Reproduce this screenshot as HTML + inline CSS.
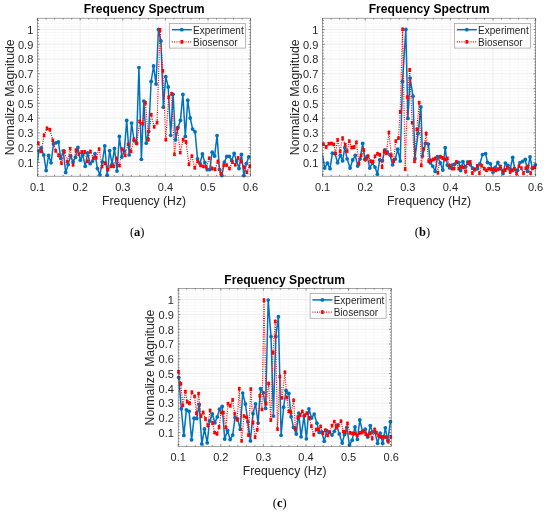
<!DOCTYPE html>
<html><head><meta charset="utf-8"><title>Frequency Spectrum</title>
<style>
html,body{margin:0;padding:0;background:#fff;}
svg{display:block;filter:blur(0.3px);}
text{font-family:"Liberation Sans",Arial,sans-serif;fill:#262626;}
.tk{font-size:11px;}
.lb{font-size:12px;}
.yl{font-size:12.25px;}
.xl{font-size:12.2px;}
.tt{font-size:12.15px;font-weight:bold;fill:#000;}
.lg{font-size:10px;}
.cp{font-family:"Liberation Serif","Times New Roman",serif;font-size:12.5px;fill:#000;}
</style></head>
<body>
<svg width="550" height="512" viewBox="0 0 550 512">
<rect width="550" height="512" fill="#fff"/>
<clipPath id="clipa"><rect x="37.6" y="18.2" width="213" height="158"/></clipPath>
<path d="M46.12 18.2V176.2M54.64 18.2V176.2M63.16 18.2V176.2M71.68 18.2V176.2M88.72 18.2V176.2M97.24 18.2V176.2M105.76 18.2V176.2M114.28 18.2V176.2M131.32 18.2V176.2M139.84 18.2V176.2M148.36 18.2V176.2M156.88 18.2V176.2M173.92 18.2V176.2M182.44 18.2V176.2M190.96 18.2V176.2M199.48 18.2V176.2M216.52 18.2V176.2M225.04 18.2V176.2M233.56 18.2V176.2M242.08 18.2V176.2M37.6 174.25H250.6M37.6 171.29H250.6M37.6 168.34H250.6M37.6 165.38H250.6M37.6 159.48H250.6M37.6 156.52H250.6M37.6 153.57H250.6M37.6 150.61H250.6M37.6 144.71H250.6M37.6 141.75H250.6M37.6 138.8H250.6M37.6 135.84H250.6M37.6 129.94H250.6M37.6 126.98H250.6M37.6 124.03H250.6M37.6 121.07H250.6M37.6 115.17H250.6M37.6 112.21H250.6M37.6 109.26H250.6M37.6 106.3H250.6M37.6 100.4H250.6M37.6 97.44H250.6M37.6 94.49H250.6M37.6 91.53H250.6M37.6 85.63H250.6M37.6 82.67H250.6M37.6 79.72H250.6M37.6 76.76H250.6M37.6 70.86H250.6M37.6 67.9H250.6M37.6 64.95H250.6M37.6 61.99H250.6M37.6 56.09H250.6M37.6 53.13H250.6M37.6 50.18H250.6M37.6 47.22H250.6M37.6 41.32H250.6M37.6 38.36H250.6M37.6 35.41H250.6M37.6 32.45H250.6M37.6 26.55H250.6M37.6 23.59H250.6M37.6 20.64H250.6" stroke="#f6f6f6" stroke-width="0.8" fill="none"/>
<path d="M80.2 18.2V176.2M122.8 18.2V176.2M165.4 18.2V176.2M208 18.2V176.2M250.6 18.2V176.2M37.6 162.43H250.6M37.6 147.66H250.6M37.6 132.89H250.6M37.6 118.12H250.6M37.6 103.35H250.6M37.6 88.58H250.6M37.6 73.81H250.6M37.6 59.04H250.6M37.6 44.27H250.6M37.6 29.5H250.6" stroke="#ebebeb" stroke-width="0.9" fill="none"/>
<polyline clip-path="url(#clipa)" points="36.2,173 38.85,150.8 41.29,147.9 43.73,154.9 46.17,170.5 48.61,155.5 51.05,162.8 53.5,144 55.94,142.8 58.38,142 60.82,158.4 63.26,150.8 65.7,172.5 68.14,164.6 70.58,155.7 73.02,162 75.47,157.3 77.91,147.5 80.35,160.2 82.79,154.9 85.23,166.3 87.67,152.9 90.11,163.7 92.55,161.1 94.99,153.7 97.43,168.6 99.88,174.8 102.32,162 104.76,145.9 107.2,175.2 109.64,150.6 112.08,163.9 114.52,148.5 116.96,171 119.4,136.5 121.84,157 124.28,151 126.73,120.4 129.17,154.9 131.61,123.1 134.05,140.5 136.49,143.5 138.93,67.6 141.37,159.3 143.81,101.1 146.25,143.2 148.69,131.5 151.14,81.5 153.58,66 156.02,84.1 158.46,29.5 160.9,41 163.34,107.2 165.78,76.7 168.22,86.9 170.66,135.3 173.1,94.3 175.55,139.7 177.99,127.4 180.43,120.4 182.87,94.4 185.31,136.5 187.75,100.2 190.19,118 192.63,129.1 195.07,131.8 197.51,158.8 199.96,163.5 202.4,154 204.84,162.4 207.28,169.7 209.72,169.5 212.16,152.2 214.6,156 217.04,135.6 219.48,169.5 221.92,175.6 224.37,162.1 226.81,156.5 229.25,156.3 231.69,160.5 234.13,153.4 236.57,161 239.01,168.5 241.45,154.4 243.89,175.6 246.33,163.6 248.78,157" fill="none" stroke="#0072bd" stroke-width="1.5" stroke-linejoin="round"/>
<g fill="#0072bd"><circle cx="38.85" cy="150.8" r="1.9"/><circle cx="41.29" cy="147.9" r="1.9"/><circle cx="43.73" cy="154.9" r="1.9"/><circle cx="46.17" cy="170.5" r="1.9"/><circle cx="48.61" cy="155.5" r="1.9"/><circle cx="51.05" cy="162.8" r="1.9"/><circle cx="53.5" cy="144" r="1.9"/><circle cx="55.94" cy="142.8" r="1.9"/><circle cx="58.38" cy="142" r="1.9"/><circle cx="60.82" cy="158.4" r="1.9"/><circle cx="63.26" cy="150.8" r="1.9"/><circle cx="65.7" cy="172.5" r="1.9"/><circle cx="68.14" cy="164.6" r="1.9"/><circle cx="70.58" cy="155.7" r="1.9"/><circle cx="73.02" cy="162" r="1.9"/><circle cx="75.47" cy="157.3" r="1.9"/><circle cx="77.91" cy="147.5" r="1.9"/><circle cx="80.35" cy="160.2" r="1.9"/><circle cx="82.79" cy="154.9" r="1.9"/><circle cx="85.23" cy="166.3" r="1.9"/><circle cx="87.67" cy="152.9" r="1.9"/><circle cx="90.11" cy="163.7" r="1.9"/><circle cx="92.55" cy="161.1" r="1.9"/><circle cx="94.99" cy="153.7" r="1.9"/><circle cx="97.43" cy="168.6" r="1.9"/><circle cx="99.88" cy="174.8" r="1.9"/><circle cx="102.32" cy="162" r="1.9"/><circle cx="104.76" cy="145.9" r="1.9"/><circle cx="107.2" cy="175.2" r="1.9"/><circle cx="109.64" cy="150.6" r="1.9"/><circle cx="112.08" cy="163.9" r="1.9"/><circle cx="114.52" cy="148.5" r="1.9"/><circle cx="116.96" cy="171" r="1.9"/><circle cx="119.4" cy="136.5" r="1.9"/><circle cx="121.84" cy="157" r="1.9"/><circle cx="124.28" cy="151" r="1.9"/><circle cx="126.73" cy="120.4" r="1.9"/><circle cx="129.17" cy="154.9" r="1.9"/><circle cx="131.61" cy="123.1" r="1.9"/><circle cx="134.05" cy="140.5" r="1.9"/><circle cx="136.49" cy="143.5" r="1.9"/><circle cx="138.93" cy="67.6" r="1.9"/><circle cx="141.37" cy="159.3" r="1.9"/><circle cx="143.81" cy="101.1" r="1.9"/><circle cx="146.25" cy="143.2" r="1.9"/><circle cx="148.69" cy="131.5" r="1.9"/><circle cx="151.14" cy="81.5" r="1.9"/><circle cx="153.58" cy="66" r="1.9"/><circle cx="156.02" cy="84.1" r="1.9"/><circle cx="158.46" cy="29.5" r="1.9"/><circle cx="160.9" cy="41" r="1.9"/><circle cx="163.34" cy="107.2" r="1.9"/><circle cx="165.78" cy="76.7" r="1.9"/><circle cx="168.22" cy="86.9" r="1.9"/><circle cx="170.66" cy="135.3" r="1.9"/><circle cx="173.1" cy="94.3" r="1.9"/><circle cx="175.55" cy="139.7" r="1.9"/><circle cx="177.99" cy="127.4" r="1.9"/><circle cx="180.43" cy="120.4" r="1.9"/><circle cx="182.87" cy="94.4" r="1.9"/><circle cx="185.31" cy="136.5" r="1.9"/><circle cx="187.75" cy="100.2" r="1.9"/><circle cx="190.19" cy="118" r="1.9"/><circle cx="192.63" cy="129.1" r="1.9"/><circle cx="195.07" cy="131.8" r="1.9"/><circle cx="197.51" cy="158.8" r="1.9"/><circle cx="199.96" cy="163.5" r="1.9"/><circle cx="202.4" cy="154" r="1.9"/><circle cx="204.84" cy="162.4" r="1.9"/><circle cx="207.28" cy="169.7" r="1.9"/><circle cx="209.72" cy="169.5" r="1.9"/><circle cx="212.16" cy="152.2" r="1.9"/><circle cx="214.6" cy="156" r="1.9"/><circle cx="217.04" cy="135.6" r="1.9"/><circle cx="219.48" cy="169.5" r="1.9"/><circle cx="221.92" cy="175.6" r="1.9"/><circle cx="224.37" cy="162.1" r="1.9"/><circle cx="226.81" cy="156.5" r="1.9"/><circle cx="229.25" cy="156.3" r="1.9"/><circle cx="231.69" cy="160.5" r="1.9"/><circle cx="234.13" cy="153.4" r="1.9"/><circle cx="236.57" cy="161" r="1.9"/><circle cx="239.01" cy="168.5" r="1.9"/><circle cx="241.45" cy="154.4" r="1.9"/><circle cx="243.89" cy="175.6" r="1.9"/><circle cx="246.33" cy="163.6" r="1.9"/><circle cx="248.78" cy="157" r="1.9"/></g>
<polyline clip-path="url(#clipa)" points="38.3,143.2 41.2,151.4 44.09,135.3 46.99,128.3 49.89,129.7 52.78,140.3 55.68,150.8 58.58,155.3 61.48,163.1 64.37,151.4 67.27,161.6 70.17,148.7 73.06,164.9 75.96,150.2 78.86,154.3 81.75,152 84.65,152 87.55,161.4 90.45,151.4 93.34,158.4 96.24,157.8 99.14,149.1 102.03,166.6 104.93,163.1 107.83,169.6 110.72,166.3 113.62,166.3 116.52,158.4 119.42,165.5 122.31,149.2 125.21,155.3 128.11,144.4 131,151.4 133.9,139.1 136.8,143.2 139.69,121.5 142.59,123.9 145.49,102.8 148.39,139.7 151.28,114.6 154.18,126.8 157.08,122.5 159.97,30 162.87,70.8 165.77,139.7 168.66,97.3 171.56,93.8 174.46,154.3 177.36,128.3 180.25,152.6 183.15,139.7 186.05,142 188.94,164.3 191.84,156.1 194.74,167.8 197.63,161.4 200.53,165.4 203.43,166.4 206.33,167.1 209.22,158.3 212.12,168.5 215.02,169.2 217.91,161.5 220.81,173.7 223.71,165.1 226.6,165.1 229.5,168.5 232.4,162.1 235.3,164.8 238.19,158 241.09,161.5 243.99,167.1 246.88,172.2 249.78,166.1" fill="none" stroke="#ff0000" stroke-width="1.2" stroke-dasharray="1 1.3"/>
<path d="M37.05 141.65L39.55 144.75M37.05 144.75L39.55 141.65M37.05 143.2H39.55M38.3 141.25V145.15M39.95 149.85L42.45 152.95M39.95 152.95L42.45 149.85M39.95 151.4H42.45M41.2 149.45V153.35M42.84 133.75L45.34 136.85M42.84 136.85L45.34 133.75M42.84 135.3H45.34M44.09 133.35V137.25M45.74 126.75L48.24 129.85M45.74 129.85L48.24 126.75M45.74 128.3H48.24M46.99 126.35V130.25M48.64 128.15L51.14 131.25M48.64 131.25L51.14 128.15M48.64 129.7H51.14M49.89 127.75V131.65M51.53 138.75L54.03 141.85M51.53 141.85L54.03 138.75M51.53 140.3H54.03M52.78 138.35V142.25M54.43 149.25L56.93 152.35M54.43 152.35L56.93 149.25M54.43 150.8H56.93M55.68 148.85V152.75M57.33 153.75L59.83 156.85M57.33 156.85L59.83 153.75M57.33 155.3H59.83M58.58 153.35V157.25M60.23 161.55L62.73 164.65M60.23 164.65L62.73 161.55M60.23 163.1H62.73M61.48 161.15V165.05M63.12 149.85L65.62 152.95M63.12 152.95L65.62 149.85M63.12 151.4H65.62M64.37 149.45V153.35M66.02 160.05L68.52 163.15M66.02 163.15L68.52 160.05M66.02 161.6H68.52M67.27 159.65V163.55M68.92 147.15L71.42 150.25M68.92 150.25L71.42 147.15M68.92 148.7H71.42M70.17 146.75V150.65M71.81 163.35L74.31 166.45M71.81 166.45L74.31 163.35M71.81 164.9H74.31M73.06 162.95V166.85M74.71 148.65L77.21 151.75M74.71 151.75L77.21 148.65M74.71 150.2H77.21M75.96 148.25V152.15M77.61 152.75L80.11 155.85M77.61 155.85L80.11 152.75M77.61 154.3H80.11M78.86 152.35V156.25M80.5 150.45L83 153.55M80.5 153.55L83 150.45M80.5 152H83M81.75 150.05V153.95M83.4 150.45L85.9 153.55M83.4 153.55L85.9 150.45M83.4 152H85.9M84.65 150.05V153.95M86.3 159.85L88.8 162.95M86.3 162.95L88.8 159.85M86.3 161.4H88.8M87.55 159.45V163.35M89.2 149.85L91.7 152.95M89.2 152.95L91.7 149.85M89.2 151.4H91.7M90.45 149.45V153.35M92.09 156.85L94.59 159.95M92.09 159.95L94.59 156.85M92.09 158.4H94.59M93.34 156.45V160.35M94.99 156.25L97.49 159.35M94.99 159.35L97.49 156.25M94.99 157.8H97.49M96.24 155.85V159.75M97.89 147.55L100.39 150.65M97.89 150.65L100.39 147.55M97.89 149.1H100.39M99.14 147.15V151.05M100.78 165.05L103.28 168.15M100.78 168.15L103.28 165.05M100.78 166.6H103.28M102.03 164.65V168.55M103.68 161.55L106.18 164.65M103.68 164.65L106.18 161.55M103.68 163.1H106.18M104.93 161.15V165.05M106.58 168.05L109.08 171.15M106.58 171.15L109.08 168.05M106.58 169.6H109.08M107.83 167.65V171.55M109.47 164.75L111.97 167.85M109.47 167.85L111.97 164.75M109.47 166.3H111.97M110.72 164.35V168.25M112.37 164.75L114.87 167.85M112.37 167.85L114.87 164.75M112.37 166.3H114.87M113.62 164.35V168.25M115.27 156.85L117.77 159.95M115.27 159.95L117.77 156.85M115.27 158.4H117.77M116.52 156.45V160.35M118.17 163.95L120.67 167.05M118.17 167.05L120.67 163.95M118.17 165.5H120.67M119.42 163.55V167.45M121.06 147.65L123.56 150.75M121.06 150.75L123.56 147.65M121.06 149.2H123.56M122.31 147.25V151.15M123.96 153.75L126.46 156.85M123.96 156.85L126.46 153.75M123.96 155.3H126.46M125.21 153.35V157.25M126.86 142.85L129.36 145.95M126.86 145.95L129.36 142.85M126.86 144.4H129.36M128.11 142.45V146.35M129.75 149.85L132.25 152.95M129.75 152.95L132.25 149.85M129.75 151.4H132.25M131 149.45V153.35M132.65 137.55L135.15 140.65M132.65 140.65L135.15 137.55M132.65 139.1H135.15M133.9 137.15V141.05M135.55 141.65L138.05 144.75M135.55 144.75L138.05 141.65M135.55 143.2H138.05M136.8 141.25V145.15M138.44 119.95L140.94 123.05M138.44 123.05L140.94 119.95M138.44 121.5H140.94M139.69 119.55V123.45M141.34 122.35L143.84 125.45M141.34 125.45L143.84 122.35M141.34 123.9H143.84M142.59 121.95V125.85M144.24 101.25L146.74 104.35M144.24 104.35L146.74 101.25M144.24 102.8H146.74M145.49 100.85V104.75M147.14 138.15L149.64 141.25M147.14 141.25L149.64 138.15M147.14 139.7H149.64M148.39 137.75V141.65M150.03 113.05L152.53 116.15M150.03 116.15L152.53 113.05M150.03 114.6H152.53M151.28 112.65V116.55M152.93 125.25L155.43 128.35M152.93 128.35L155.43 125.25M152.93 126.8H155.43M154.18 124.85V128.75M155.83 120.95L158.33 124.05M155.83 124.05L158.33 120.95M155.83 122.5H158.33M157.08 120.55V124.45M158.72 28.45L161.22 31.55M158.72 31.55L161.22 28.45M158.72 30H161.22M159.97 28.05V31.95M161.62 69.25L164.12 72.35M161.62 72.35L164.12 69.25M161.62 70.8H164.12M162.87 68.85V72.75M164.52 138.15L167.02 141.25M164.52 141.25L167.02 138.15M164.52 139.7H167.02M165.77 137.75V141.65M167.41 95.75L169.91 98.85M167.41 98.85L169.91 95.75M167.41 97.3H169.91M168.66 95.35V99.25M170.31 92.25L172.81 95.35M170.31 95.35L172.81 92.25M170.31 93.8H172.81M171.56 91.85V95.75M173.21 152.75L175.71 155.85M173.21 155.85L175.71 152.75M173.21 154.3H175.71M174.46 152.35V156.25M176.11 126.75L178.61 129.85M176.11 129.85L178.61 126.75M176.11 128.3H178.61M177.36 126.35V130.25M179 151.05L181.5 154.15M179 154.15L181.5 151.05M179 152.6H181.5M180.25 150.65V154.55M181.9 138.15L184.4 141.25M181.9 141.25L184.4 138.15M181.9 139.7H184.4M183.15 137.75V141.65M184.8 140.45L187.3 143.55M184.8 143.55L187.3 140.45M184.8 142H187.3M186.05 140.05V143.95M187.69 162.75L190.19 165.85M187.69 165.85L190.19 162.75M187.69 164.3H190.19M188.94 162.35V166.25M190.59 154.55L193.09 157.65M190.59 157.65L193.09 154.55M190.59 156.1H193.09M191.84 154.15V158.05M193.49 166.25L195.99 169.35M193.49 169.35L195.99 166.25M193.49 167.8H195.99M194.74 165.85V169.75M196.38 159.85L198.88 162.95M196.38 162.95L198.88 159.85M196.38 161.4H198.88M197.63 159.45V163.35M199.28 163.85L201.78 166.95M199.28 166.95L201.78 163.85M199.28 165.4H201.78M200.53 163.45V167.35M202.18 164.85L204.68 167.95M202.18 167.95L204.68 164.85M202.18 166.4H204.68M203.43 164.45V168.35M205.08 165.55L207.58 168.65M205.08 168.65L207.58 165.55M205.08 167.1H207.58M206.33 165.15V169.05M207.97 156.75L210.47 159.85M207.97 159.85L210.47 156.75M207.97 158.3H210.47M209.22 156.35V160.25M210.87 166.95L213.37 170.05M210.87 170.05L213.37 166.95M210.87 168.5H213.37M212.12 166.55V170.45M213.77 167.65L216.27 170.75M213.77 170.75L216.27 167.65M213.77 169.2H216.27M215.02 167.25V171.15M216.66 159.95L219.16 163.05M216.66 163.05L219.16 159.95M216.66 161.5H219.16M217.91 159.55V163.45M219.56 172.15L222.06 175.25M219.56 175.25L222.06 172.15M219.56 173.7H222.06M220.81 171.75V175.65M222.46 163.55L224.96 166.65M222.46 166.65L224.96 163.55M222.46 165.1H224.96M223.71 163.15V167.05M225.35 163.55L227.85 166.65M225.35 166.65L227.85 163.55M225.35 165.1H227.85M226.6 163.15V167.05M228.25 166.95L230.75 170.05M228.25 170.05L230.75 166.95M228.25 168.5H230.75M229.5 166.55V170.45M231.15 160.55L233.65 163.65M231.15 163.65L233.65 160.55M231.15 162.1H233.65M232.4 160.15V164.05M234.05 163.25L236.55 166.35M234.05 166.35L236.55 163.25M234.05 164.8H236.55M235.3 162.85V166.75M236.94 156.45L239.44 159.55M236.94 159.55L239.44 156.45M236.94 158H239.44M238.19 156.05V159.95M239.84 159.95L242.34 163.05M239.84 163.05L242.34 159.95M239.84 161.5H242.34M241.09 159.55V163.45M242.74 165.55L245.24 168.65M242.74 168.65L245.24 165.55M242.74 167.1H245.24M243.99 165.15V169.05M245.63 170.65L248.13 173.75M245.63 173.75L248.13 170.65M245.63 172.2H248.13M246.88 170.25V174.15M248.53 164.55L251.03 167.65M248.53 167.65L251.03 164.55M248.53 166.1H251.03M249.78 164.15V168.05" stroke="#ff0000" stroke-width="1.15" fill="none"/>
<path d="M37.6 176.2v-2.2M37.6 18.2v2.2M46.12 176.2v-1.3M46.12 18.2v1.3M54.64 176.2v-1.3M54.64 18.2v1.3M63.16 176.2v-1.3M63.16 18.2v1.3M71.68 176.2v-1.3M71.68 18.2v1.3M80.2 176.2v-2.2M80.2 18.2v2.2M88.72 176.2v-1.3M88.72 18.2v1.3M97.24 176.2v-1.3M97.24 18.2v1.3M105.76 176.2v-1.3M105.76 18.2v1.3M114.28 176.2v-1.3M114.28 18.2v1.3M122.8 176.2v-2.2M122.8 18.2v2.2M131.32 176.2v-1.3M131.32 18.2v1.3M139.84 176.2v-1.3M139.84 18.2v1.3M148.36 176.2v-1.3M148.36 18.2v1.3M156.88 176.2v-1.3M156.88 18.2v1.3M165.4 176.2v-2.2M165.4 18.2v2.2M173.92 176.2v-1.3M173.92 18.2v1.3M182.44 176.2v-1.3M182.44 18.2v1.3M190.96 176.2v-1.3M190.96 18.2v1.3M199.48 176.2v-1.3M199.48 18.2v1.3M208 176.2v-2.2M208 18.2v2.2M216.52 176.2v-1.3M216.52 18.2v1.3M225.04 176.2v-1.3M225.04 18.2v1.3M233.56 176.2v-1.3M233.56 18.2v1.3M242.08 176.2v-1.3M242.08 18.2v1.3M250.6 176.2v-2.2M250.6 18.2v2.2M37.6 174.25h1.3M250.6 174.25h-1.3M37.6 171.29h1.3M250.6 171.29h-1.3M37.6 168.34h1.3M250.6 168.34h-1.3M37.6 165.38h1.3M250.6 165.38h-1.3M37.6 162.43h2.2M250.6 162.43h-2.2M37.6 159.48h1.3M250.6 159.48h-1.3M37.6 156.52h1.3M250.6 156.52h-1.3M37.6 153.57h1.3M250.6 153.57h-1.3M37.6 150.61h1.3M250.6 150.61h-1.3M37.6 147.66h2.2M250.6 147.66h-2.2M37.6 144.71h1.3M250.6 144.71h-1.3M37.6 141.75h1.3M250.6 141.75h-1.3M37.6 138.8h1.3M250.6 138.8h-1.3M37.6 135.84h1.3M250.6 135.84h-1.3M37.6 132.89h2.2M250.6 132.89h-2.2M37.6 129.94h1.3M250.6 129.94h-1.3M37.6 126.98h1.3M250.6 126.98h-1.3M37.6 124.03h1.3M250.6 124.03h-1.3M37.6 121.07h1.3M250.6 121.07h-1.3M37.6 118.12h2.2M250.6 118.12h-2.2M37.6 115.17h1.3M250.6 115.17h-1.3M37.6 112.21h1.3M250.6 112.21h-1.3M37.6 109.26h1.3M250.6 109.26h-1.3M37.6 106.3h1.3M250.6 106.3h-1.3M37.6 103.35h2.2M250.6 103.35h-2.2M37.6 100.4h1.3M250.6 100.4h-1.3M37.6 97.44h1.3M250.6 97.44h-1.3M37.6 94.49h1.3M250.6 94.49h-1.3M37.6 91.53h1.3M250.6 91.53h-1.3M37.6 88.58h2.2M250.6 88.58h-2.2M37.6 85.63h1.3M250.6 85.63h-1.3M37.6 82.67h1.3M250.6 82.67h-1.3M37.6 79.72h1.3M250.6 79.72h-1.3M37.6 76.76h1.3M250.6 76.76h-1.3M37.6 73.81h2.2M250.6 73.81h-2.2M37.6 70.86h1.3M250.6 70.86h-1.3M37.6 67.9h1.3M250.6 67.9h-1.3M37.6 64.95h1.3M250.6 64.95h-1.3M37.6 61.99h1.3M250.6 61.99h-1.3M37.6 59.04h2.2M250.6 59.04h-2.2M37.6 56.09h1.3M250.6 56.09h-1.3M37.6 53.13h1.3M250.6 53.13h-1.3M37.6 50.18h1.3M250.6 50.18h-1.3M37.6 47.22h1.3M250.6 47.22h-1.3M37.6 44.27h2.2M250.6 44.27h-2.2M37.6 41.32h1.3M250.6 41.32h-1.3M37.6 38.36h1.3M250.6 38.36h-1.3M37.6 35.41h1.3M250.6 35.41h-1.3M37.6 32.45h1.3M250.6 32.45h-1.3M37.6 29.5h2.2M250.6 29.5h-2.2M37.6 26.55h1.3M250.6 26.55h-1.3M37.6 23.59h1.3M250.6 23.59h-1.3M37.6 20.64h1.3M250.6 20.64h-1.3" stroke="#262626" stroke-width="0.5" fill="none"/>
<rect x="37.6" y="18.2" width="213" height="158" fill="none" stroke="#404040" stroke-width="0.6" opacity="0.8"/>
<text x="37.6" y="190.5" class="tk" text-anchor="middle">0.1</text>
<text x="80.2" y="190.5" class="tk" text-anchor="middle">0.2</text>
<text x="122.8" y="190.5" class="tk" text-anchor="middle">0.3</text>
<text x="165.4" y="190.5" class="tk" text-anchor="middle">0.4</text>
<text x="208" y="190.5" class="tk" text-anchor="middle">0.5</text>
<text x="250.6" y="190.5" class="tk" text-anchor="middle">0.6</text>
<text x="33.3" y="166.73" class="tk" text-anchor="end">0.1</text>
<text x="33.3" y="151.96" class="tk" text-anchor="end">0.2</text>
<text x="33.3" y="137.19" class="tk" text-anchor="end">0.3</text>
<text x="33.3" y="122.42" class="tk" text-anchor="end">0.4</text>
<text x="33.3" y="107.65" class="tk" text-anchor="end">0.5</text>
<text x="33.3" y="92.88" class="tk" text-anchor="end">0.6</text>
<text x="33.3" y="78.11" class="tk" text-anchor="end">0.7</text>
<text x="33.3" y="63.34" class="tk" text-anchor="end">0.8</text>
<text x="33.3" y="48.57" class="tk" text-anchor="end">0.9</text>
<text x="33.3" y="33.8" class="tk" text-anchor="end">1</text>
<text x="144.1" y="204.9" class="lb xl" text-anchor="middle">Frequency (Hz)</text>
<text transform="translate(13.5 97.3) rotate(-90)" class="lb yl" text-anchor="middle">Normalize Magnitude</text>
<text x="144.1" y="13.3" class="tt" text-anchor="middle">Frequency Spectrum</text>
<rect x="169.5" y="23.4" width="76" height="24.7" fill="#fff" stroke="#a8a8a8" stroke-width="0.8"/>
<path d="M171.8 29.7h20" stroke="#0072bd" stroke-width="1.5"/>
<circle cx="181.8" cy="29.7" r="1.9" fill="#0072bd"/>
<path d="M171.8 41.9h20" stroke="#ff0000" stroke-width="1.2" stroke-dasharray="1 1.3"/>
<path d="M180.55 40.35L183.05 43.45M180.55 43.45L183.05 40.35M180.55 41.9H183.05M181.8 39.95V43.85" stroke="#ff0000" stroke-width="1.15"/>
<text x="193.1" y="33.5" class="lg">Experiment</text>
<text x="193.1" y="45.5" class="lg">Biosensor</text>
<text x="137.2" y="236.2" class="cp" text-anchor="middle">(<tspan font-weight="bold">a</tspan>)</text>
<clipPath id="clipb"><rect x="322.6" y="18.2" width="213" height="158"/></clipPath>
<path d="M331.12 18.2V176.2M339.64 18.2V176.2M348.16 18.2V176.2M356.68 18.2V176.2M373.72 18.2V176.2M382.24 18.2V176.2M390.76 18.2V176.2M399.28 18.2V176.2M416.32 18.2V176.2M424.84 18.2V176.2M433.36 18.2V176.2M441.88 18.2V176.2M458.92 18.2V176.2M467.44 18.2V176.2M475.96 18.2V176.2M484.48 18.2V176.2M501.52 18.2V176.2M510.04 18.2V176.2M518.56 18.2V176.2M527.08 18.2V176.2M322.6 174.25H535.6M322.6 171.29H535.6M322.6 168.34H535.6M322.6 165.38H535.6M322.6 159.48H535.6M322.6 156.52H535.6M322.6 153.57H535.6M322.6 150.61H535.6M322.6 144.71H535.6M322.6 141.75H535.6M322.6 138.8H535.6M322.6 135.84H535.6M322.6 129.94H535.6M322.6 126.98H535.6M322.6 124.03H535.6M322.6 121.07H535.6M322.6 115.17H535.6M322.6 112.21H535.6M322.6 109.26H535.6M322.6 106.3H535.6M322.6 100.4H535.6M322.6 97.44H535.6M322.6 94.49H535.6M322.6 91.53H535.6M322.6 85.63H535.6M322.6 82.67H535.6M322.6 79.72H535.6M322.6 76.76H535.6M322.6 70.86H535.6M322.6 67.9H535.6M322.6 64.95H535.6M322.6 61.99H535.6M322.6 56.09H535.6M322.6 53.13H535.6M322.6 50.18H535.6M322.6 47.22H535.6M322.6 41.32H535.6M322.6 38.36H535.6M322.6 35.41H535.6M322.6 32.45H535.6M322.6 26.55H535.6M322.6 23.59H535.6M322.6 20.64H535.6" stroke="#f6f6f6" stroke-width="0.8" fill="none"/>
<path d="M365.2 18.2V176.2M407.8 18.2V176.2M450.4 18.2V176.2M493 18.2V176.2M535.6 18.2V176.2M322.6 162.43H535.6M322.6 147.66H535.6M322.6 132.89H535.6M322.6 118.12H535.6M322.6 103.35H535.6M322.6 88.58H535.6M322.6 73.81H535.6M322.6 59.04H535.6M322.6 44.27H535.6M322.6 29.5H535.6" stroke="#ebebeb" stroke-width="0.9" fill="none"/>
<polyline clip-path="url(#clipb)" points="322.2,153.5 324.7,168.1 327.4,163.2 330,168.7 332.4,153.2 335,153.5 337.6,162.8 340.3,155.2 342.6,160.8 344.8,147.6 347.1,158.8 350.1,168 352.7,160 355.3,155.3 357.7,166 360.1,158.9 362.7,143.4 364.8,159.3 367.2,156.3 369.8,168.1 372.3,162.8 375,167.1 377.4,174.2 379.7,160 382.4,160.7 384.8,149.8 387.2,152 390,155 392.6,164.8 395.3,159.1 397.7,149.2 400.2,161 402.5,81.4 405.8,29.5 407.9,118.4 410.2,78.1 413,96.2 414.9,158.7 418.1,133.3 420.9,106.9 422.5,156.1 425.6,143.2 428.4,144.1 430.4,162.9 432.7,166.1 435.2,171.4 437.6,156.7 440.3,163 442.8,170 445.2,147.7 447.3,165.1 449.5,167.8 452.1,165.1 454.2,164.3 456.5,162.7 458.8,162.3 460.6,170.5 462.9,161.6 465.4,167 467.8,162 470.4,164.8 472.8,168.2 475,169.7 477.5,168.7 479.9,163.8 482.5,154.6 485.6,153.7 487.5,162.5 490.4,163.8 493,172.2 495.2,167.3 497.9,162.5 500.5,168.7 503,173.5 505.4,163.1 507.8,165.3 510.2,169 512.7,157.5 514.9,169.5 517.6,170.3 520,162.7 522.6,161.5 525.3,159.5 527.5,171.3 530,157 532.3,168.2 535.4,164.8" fill="none" stroke="#0072bd" stroke-width="1.5" stroke-linejoin="round"/>
<g fill="#0072bd"><circle cx="324.7" cy="168.1" r="1.9"/><circle cx="327.4" cy="163.2" r="1.9"/><circle cx="330" cy="168.7" r="1.9"/><circle cx="332.4" cy="153.2" r="1.9"/><circle cx="335" cy="153.5" r="1.9"/><circle cx="337.6" cy="162.8" r="1.9"/><circle cx="340.3" cy="155.2" r="1.9"/><circle cx="342.6" cy="160.8" r="1.9"/><circle cx="344.8" cy="147.6" r="1.9"/><circle cx="347.1" cy="158.8" r="1.9"/><circle cx="350.1" cy="168" r="1.9"/><circle cx="352.7" cy="160" r="1.9"/><circle cx="355.3" cy="155.3" r="1.9"/><circle cx="357.7" cy="166" r="1.9"/><circle cx="360.1" cy="158.9" r="1.9"/><circle cx="362.7" cy="143.4" r="1.9"/><circle cx="364.8" cy="159.3" r="1.9"/><circle cx="367.2" cy="156.3" r="1.9"/><circle cx="369.8" cy="168.1" r="1.9"/><circle cx="372.3" cy="162.8" r="1.9"/><circle cx="375" cy="167.1" r="1.9"/><circle cx="377.4" cy="174.2" r="1.9"/><circle cx="379.7" cy="160" r="1.9"/><circle cx="382.4" cy="160.7" r="1.9"/><circle cx="384.8" cy="149.8" r="1.9"/><circle cx="387.2" cy="152" r="1.9"/><circle cx="390" cy="155" r="1.9"/><circle cx="392.6" cy="164.8" r="1.9"/><circle cx="395.3" cy="159.1" r="1.9"/><circle cx="397.7" cy="149.2" r="1.9"/><circle cx="400.2" cy="161" r="1.9"/><circle cx="402.5" cy="81.4" r="1.9"/><circle cx="405.8" cy="29.5" r="1.9"/><circle cx="407.9" cy="118.4" r="1.9"/><circle cx="410.2" cy="78.1" r="1.9"/><circle cx="413" cy="96.2" r="1.9"/><circle cx="414.9" cy="158.7" r="1.9"/><circle cx="418.1" cy="133.3" r="1.9"/><circle cx="420.9" cy="106.9" r="1.9"/><circle cx="422.5" cy="156.1" r="1.9"/><circle cx="425.6" cy="143.2" r="1.9"/><circle cx="428.4" cy="144.1" r="1.9"/><circle cx="430.4" cy="162.9" r="1.9"/><circle cx="432.7" cy="166.1" r="1.9"/><circle cx="435.2" cy="171.4" r="1.9"/><circle cx="437.6" cy="156.7" r="1.9"/><circle cx="440.3" cy="163" r="1.9"/><circle cx="442.8" cy="170" r="1.9"/><circle cx="445.2" cy="147.7" r="1.9"/><circle cx="447.3" cy="165.1" r="1.9"/><circle cx="449.5" cy="167.8" r="1.9"/><circle cx="452.1" cy="165.1" r="1.9"/><circle cx="454.2" cy="164.3" r="1.9"/><circle cx="456.5" cy="162.7" r="1.9"/><circle cx="458.8" cy="162.3" r="1.9"/><circle cx="460.6" cy="170.5" r="1.9"/><circle cx="462.9" cy="161.6" r="1.9"/><circle cx="465.4" cy="167" r="1.9"/><circle cx="467.8" cy="162" r="1.9"/><circle cx="470.4" cy="164.8" r="1.9"/><circle cx="472.8" cy="168.2" r="1.9"/><circle cx="475" cy="169.7" r="1.9"/><circle cx="477.5" cy="168.7" r="1.9"/><circle cx="479.9" cy="163.8" r="1.9"/><circle cx="482.5" cy="154.6" r="1.9"/><circle cx="485.6" cy="153.7" r="1.9"/><circle cx="487.5" cy="162.5" r="1.9"/><circle cx="490.4" cy="163.8" r="1.9"/><circle cx="493" cy="172.2" r="1.9"/><circle cx="495.2" cy="167.3" r="1.9"/><circle cx="497.9" cy="162.5" r="1.9"/><circle cx="500.5" cy="168.7" r="1.9"/><circle cx="503" cy="173.5" r="1.9"/><circle cx="505.4" cy="163.1" r="1.9"/><circle cx="507.8" cy="165.3" r="1.9"/><circle cx="510.2" cy="169" r="1.9"/><circle cx="512.7" cy="157.5" r="1.9"/><circle cx="514.9" cy="169.5" r="1.9"/><circle cx="517.6" cy="170.3" r="1.9"/><circle cx="520" cy="162.7" r="1.9"/><circle cx="522.6" cy="161.5" r="1.9"/><circle cx="525.3" cy="159.5" r="1.9"/><circle cx="527.5" cy="171.3" r="1.9"/><circle cx="530" cy="157" r="1.9"/><circle cx="532.3" cy="168.2" r="1.9"/><circle cx="535.4" cy="164.8" r="1.9"/></g>
<polyline clip-path="url(#clipb)" points="323.5,144.1 326.2,147 328.8,143.8 331.4,143.5 333.8,144.4 335.5,153.4 337.6,140 340.2,151.1 342.6,138.2 345.2,144.6 347.2,151.1 349.3,141.1 351.7,147.5 354.2,147 356.4,142.3 358.9,163.8 361.1,155.5 363.7,150 365.5,159.7 368.2,156.1 370.6,161.1 373.1,161.6 375,156.3 377.5,153.8 379.9,154.8 382.1,167 384.1,151.4 386.4,153.3 388.9,132.4 391.3,155.2 393.5,161 395.8,141.1 398.5,138.1 400.2,112 402.6,29.3 405.2,169 407.4,97.2 409.7,70 412.2,122.7 414.5,161.3 416.8,129.4 419.2,102.6 421.3,165.3 423.7,148.9 426.2,133.5 428.6,161.1 431,160.6 433.2,159.5 435.4,158.5 437.9,172.9 440.3,156.7 442.6,158 445.2,159.5 447.4,158.4 449.4,165.5 452.1,168.6 454.1,168.6 456.4,162 458.75,168.6 461.1,166.6 463.4,167.4 465.6,171.7 468.1,163.1 470.3,162 472.4,173.1 474.6,169.5 477.2,166 479.4,173.2 481.6,165.6 484.3,168.7 486.5,170.4 488.7,168.7 491,169.1 493.5,169.1 495.9,170.4 498.3,169.1 500.5,166.5 503,171.1 505.3,170 507.3,167.8 510.2,172 512.4,170.3 514.4,168.6 516.6,173.7 518.9,166.1 521.4,168.2 523.5,173.2 525.8,168.2 528.1,166.5 530.6,173.2 532.7,168.2 534.8,167.4" fill="none" stroke="#ff0000" stroke-width="1.2" stroke-dasharray="1 1.3"/>
<path d="M322.25 142.55L324.75 145.65M322.25 145.65L324.75 142.55M322.25 144.1H324.75M323.5 142.15V146.05M324.95 145.45L327.45 148.55M324.95 148.55L327.45 145.45M324.95 147H327.45M326.2 145.05V148.95M327.55 142.25L330.05 145.35M327.55 145.35L330.05 142.25M327.55 143.8H330.05M328.8 141.85V145.75M330.15 141.95L332.65 145.05M330.15 145.05L332.65 141.95M330.15 143.5H332.65M331.4 141.55V145.45M332.55 142.85L335.05 145.95M332.55 145.95L335.05 142.85M332.55 144.4H335.05M333.8 142.45V146.35M334.25 151.85L336.75 154.95M334.25 154.95L336.75 151.85M334.25 153.4H336.75M335.5 151.45V155.35M336.35 138.45L338.85 141.55M336.35 141.55L338.85 138.45M336.35 140H338.85M337.6 138.05V141.95M338.95 149.55L341.45 152.65M338.95 152.65L341.45 149.55M338.95 151.1H341.45M340.2 149.15V153.05M341.35 136.65L343.85 139.75M341.35 139.75L343.85 136.65M341.35 138.2H343.85M342.6 136.25V140.15M343.95 143.05L346.45 146.15M343.95 146.15L346.45 143.05M343.95 144.6H346.45M345.2 142.65V146.55M345.95 149.55L348.45 152.65M345.95 152.65L348.45 149.55M345.95 151.1H348.45M347.2 149.15V153.05M348.05 139.55L350.55 142.65M348.05 142.65L350.55 139.55M348.05 141.1H350.55M349.3 139.15V143.05M350.45 145.95L352.95 149.05M350.45 149.05L352.95 145.95M350.45 147.5H352.95M351.7 145.55V149.45M352.95 145.45L355.45 148.55M352.95 148.55L355.45 145.45M352.95 147H355.45M354.2 145.05V148.95M355.15 140.75L357.65 143.85M355.15 143.85L357.65 140.75M355.15 142.3H357.65M356.4 140.35V144.25M357.65 162.25L360.15 165.35M357.65 165.35L360.15 162.25M357.65 163.8H360.15M358.9 161.85V165.75M359.85 153.95L362.35 157.05M359.85 157.05L362.35 153.95M359.85 155.5H362.35M361.1 153.55V157.45M362.45 148.45L364.95 151.55M362.45 151.55L364.95 148.45M362.45 150H364.95M363.7 148.05V151.95M364.25 158.15L366.75 161.25M364.25 161.25L366.75 158.15M364.25 159.7H366.75M365.5 157.75V161.65M366.95 154.55L369.45 157.65M366.95 157.65L369.45 154.55M366.95 156.1H369.45M368.2 154.15V158.05M369.35 159.55L371.85 162.65M369.35 162.65L371.85 159.55M369.35 161.1H371.85M370.6 159.15V163.05M371.85 160.05L374.35 163.15M371.85 163.15L374.35 160.05M371.85 161.6H374.35M373.1 159.65V163.55M373.75 154.75L376.25 157.85M373.75 157.85L376.25 154.75M373.75 156.3H376.25M375 154.35V158.25M376.25 152.25L378.75 155.35M376.25 155.35L378.75 152.25M376.25 153.8H378.75M377.5 151.85V155.75M378.65 153.25L381.15 156.35M378.65 156.35L381.15 153.25M378.65 154.8H381.15M379.9 152.85V156.75M380.85 165.45L383.35 168.55M380.85 168.55L383.35 165.45M380.85 167H383.35M382.1 165.05V168.95M382.85 149.85L385.35 152.95M382.85 152.95L385.35 149.85M382.85 151.4H385.35M384.1 149.45V153.35M385.15 151.75L387.65 154.85M385.15 154.85L387.65 151.75M385.15 153.3H387.65M386.4 151.35V155.25M387.65 130.85L390.15 133.95M387.65 133.95L390.15 130.85M387.65 132.4H390.15M388.9 130.45V134.35M390.05 153.65L392.55 156.75M390.05 156.75L392.55 153.65M390.05 155.2H392.55M391.3 153.25V157.15M392.25 159.45L394.75 162.55M392.25 162.55L394.75 159.45M392.25 161H394.75M393.5 159.05V162.95M394.55 139.55L397.05 142.65M394.55 142.65L397.05 139.55M394.55 141.1H397.05M395.8 139.15V143.05M397.25 136.55L399.75 139.65M397.25 139.65L399.75 136.55M397.25 138.1H399.75M398.5 136.15V140.05M398.95 110.45L401.45 113.55M398.95 113.55L401.45 110.45M398.95 112H401.45M400.2 110.05V113.95M401.35 27.75L403.85 30.85M401.35 30.85L403.85 27.75M401.35 29.3H403.85M402.6 27.35V31.25M403.95 167.45L406.45 170.55M403.95 170.55L406.45 167.45M403.95 169H406.45M405.2 167.05V170.95M406.15 95.65L408.65 98.75M406.15 98.75L408.65 95.65M406.15 97.2H408.65M407.4 95.25V99.15M408.45 68.45L410.95 71.55M408.45 71.55L410.95 68.45M408.45 70H410.95M409.7 68.05V71.95M410.95 121.15L413.45 124.25M410.95 124.25L413.45 121.15M410.95 122.7H413.45M412.2 120.75V124.65M413.25 159.75L415.75 162.85M413.25 162.85L415.75 159.75M413.25 161.3H415.75M414.5 159.35V163.25M415.55 127.85L418.05 130.95M415.55 130.95L418.05 127.85M415.55 129.4H418.05M416.8 127.45V131.35M417.95 101.05L420.45 104.15M417.95 104.15L420.45 101.05M417.95 102.6H420.45M419.2 100.65V104.55M420.05 163.75L422.55 166.85M420.05 166.85L422.55 163.75M420.05 165.3H422.55M421.3 163.35V167.25M422.45 147.35L424.95 150.45M422.45 150.45L424.95 147.35M422.45 148.9H424.95M423.7 146.95V150.85M424.95 131.95L427.45 135.05M424.95 135.05L427.45 131.95M424.95 133.5H427.45M426.2 131.55V135.45M427.35 159.55L429.85 162.65M427.35 162.65L429.85 159.55M427.35 161.1H429.85M428.6 159.15V163.05M429.75 159.05L432.25 162.15M429.75 162.15L432.25 159.05M429.75 160.6H432.25M431 158.65V162.55M431.95 157.95L434.45 161.05M431.95 161.05L434.45 157.95M431.95 159.5H434.45M433.2 157.55V161.45M434.15 156.95L436.65 160.05M434.15 160.05L436.65 156.95M434.15 158.5H436.65M435.4 156.55V160.45M436.65 171.35L439.15 174.45M436.65 174.45L439.15 171.35M436.65 172.9H439.15M437.9 170.95V174.85M439.05 155.15L441.55 158.25M439.05 158.25L441.55 155.15M439.05 156.7H441.55M440.3 154.75V158.65M441.35 156.45L443.85 159.55M441.35 159.55L443.85 156.45M441.35 158H443.85M442.6 156.05V159.95M443.95 157.95L446.45 161.05M443.95 161.05L446.45 157.95M443.95 159.5H446.45M445.2 157.55V161.45M446.15 156.85L448.65 159.95M446.15 159.95L448.65 156.85M446.15 158.4H448.65M447.4 156.45V160.35M448.15 163.95L450.65 167.05M448.15 167.05L450.65 163.95M448.15 165.5H450.65M449.4 163.55V167.45M450.85 167.05L453.35 170.15M450.85 170.15L453.35 167.05M450.85 168.6H453.35M452.1 166.65V170.55M452.85 167.05L455.35 170.15M452.85 170.15L455.35 167.05M452.85 168.6H455.35M454.1 166.65V170.55M455.15 160.45L457.65 163.55M455.15 163.55L457.65 160.45M455.15 162H457.65M456.4 160.05V163.95M457.5 167.05L460 170.15M457.5 170.15L460 167.05M457.5 168.6H460M458.75 166.65V170.55M459.85 165.05L462.35 168.15M459.85 168.15L462.35 165.05M459.85 166.6H462.35M461.1 164.65V168.55M462.15 165.85L464.65 168.95M462.15 168.95L464.65 165.85M462.15 167.4H464.65M463.4 165.45V169.35M464.35 170.15L466.85 173.25M464.35 173.25L466.85 170.15M464.35 171.7H466.85M465.6 169.75V173.65M466.85 161.55L469.35 164.65M466.85 164.65L469.35 161.55M466.85 163.1H469.35M468.1 161.15V165.05M469.05 160.45L471.55 163.55M469.05 163.55L471.55 160.45M469.05 162H471.55M470.3 160.05V163.95M471.15 171.55L473.65 174.65M471.15 174.65L473.65 171.55M471.15 173.1H473.65M472.4 171.15V175.05M473.35 167.95L475.85 171.05M473.35 171.05L475.85 167.95M473.35 169.5H475.85M474.6 167.55V171.45M475.95 164.45L478.45 167.55M475.95 167.55L478.45 164.45M475.95 166H478.45M477.2 164.05V167.95M478.15 171.65L480.65 174.75M478.15 174.75L480.65 171.65M478.15 173.2H480.65M479.4 171.25V175.15M480.35 164.05L482.85 167.15M480.35 167.15L482.85 164.05M480.35 165.6H482.85M481.6 163.65V167.55M483.05 167.15L485.55 170.25M483.05 170.25L485.55 167.15M483.05 168.7H485.55M484.3 166.75V170.65M485.25 168.85L487.75 171.95M485.25 171.95L487.75 168.85M485.25 170.4H487.75M486.5 168.45V172.35M487.45 167.15L489.95 170.25M487.45 170.25L489.95 167.15M487.45 168.7H489.95M488.7 166.75V170.65M489.75 167.55L492.25 170.65M489.75 170.65L492.25 167.55M489.75 169.1H492.25M491 167.15V171.05M492.25 167.55L494.75 170.65M492.25 170.65L494.75 167.55M492.25 169.1H494.75M493.5 167.15V171.05M494.65 168.85L497.15 171.95M494.65 171.95L497.15 168.85M494.65 170.4H497.15M495.9 168.45V172.35M497.05 167.55L499.55 170.65M497.05 170.65L499.55 167.55M497.05 169.1H499.55M498.3 167.15V171.05M499.25 164.95L501.75 168.05M499.25 168.05L501.75 164.95M499.25 166.5H501.75M500.5 164.55V168.45M501.75 169.55L504.25 172.65M501.75 172.65L504.25 169.55M501.75 171.1H504.25M503 169.15V173.05M504.05 168.45L506.55 171.55M504.05 171.55L506.55 168.45M504.05 170H506.55M505.3 168.05V171.95M506.05 166.25L508.55 169.35M506.05 169.35L508.55 166.25M506.05 167.8H508.55M507.3 165.85V169.75M508.95 170.45L511.45 173.55M508.95 173.55L511.45 170.45M508.95 172H511.45M510.2 170.05V173.95M511.15 168.75L513.65 171.85M511.15 171.85L513.65 168.75M511.15 170.3H513.65M512.4 168.35V172.25M513.15 167.05L515.65 170.15M513.15 170.15L515.65 167.05M513.15 168.6H515.65M514.4 166.65V170.55M515.35 172.15L517.85 175.25M515.35 175.25L517.85 172.15M515.35 173.7H517.85M516.6 171.75V175.65M517.65 164.55L520.15 167.65M517.65 167.65L520.15 164.55M517.65 166.1H520.15M518.9 164.15V168.05M520.15 166.65L522.65 169.75M520.15 169.75L522.65 166.65M520.15 168.2H522.65M521.4 166.25V170.15M522.25 171.65L524.75 174.75M522.25 174.75L524.75 171.65M522.25 173.2H524.75M523.5 171.25V175.15M524.55 166.65L527.05 169.75M524.55 169.75L527.05 166.65M524.55 168.2H527.05M525.8 166.25V170.15M526.85 164.95L529.35 168.05M526.85 168.05L529.35 164.95M526.85 166.5H529.35M528.1 164.55V168.45M529.35 171.65L531.85 174.75M529.35 174.75L531.85 171.65M529.35 173.2H531.85M530.6 171.25V175.15M531.45 166.65L533.95 169.75M531.45 169.75L533.95 166.65M531.45 168.2H533.95M532.7 166.25V170.15M533.55 165.85L536.05 168.95M533.55 168.95L536.05 165.85M533.55 167.4H536.05M534.8 165.45V169.35" stroke="#ff0000" stroke-width="1.15" fill="none"/>
<path d="M322.6 176.2v-2.2M322.6 18.2v2.2M331.12 176.2v-1.3M331.12 18.2v1.3M339.64 176.2v-1.3M339.64 18.2v1.3M348.16 176.2v-1.3M348.16 18.2v1.3M356.68 176.2v-1.3M356.68 18.2v1.3M365.2 176.2v-2.2M365.2 18.2v2.2M373.72 176.2v-1.3M373.72 18.2v1.3M382.24 176.2v-1.3M382.24 18.2v1.3M390.76 176.2v-1.3M390.76 18.2v1.3M399.28 176.2v-1.3M399.28 18.2v1.3M407.8 176.2v-2.2M407.8 18.2v2.2M416.32 176.2v-1.3M416.32 18.2v1.3M424.84 176.2v-1.3M424.84 18.2v1.3M433.36 176.2v-1.3M433.36 18.2v1.3M441.88 176.2v-1.3M441.88 18.2v1.3M450.4 176.2v-2.2M450.4 18.2v2.2M458.92 176.2v-1.3M458.92 18.2v1.3M467.44 176.2v-1.3M467.44 18.2v1.3M475.96 176.2v-1.3M475.96 18.2v1.3M484.48 176.2v-1.3M484.48 18.2v1.3M493 176.2v-2.2M493 18.2v2.2M501.52 176.2v-1.3M501.52 18.2v1.3M510.04 176.2v-1.3M510.04 18.2v1.3M518.56 176.2v-1.3M518.56 18.2v1.3M527.08 176.2v-1.3M527.08 18.2v1.3M535.6 176.2v-2.2M535.6 18.2v2.2M322.6 174.25h1.3M535.6 174.25h-1.3M322.6 171.29h1.3M535.6 171.29h-1.3M322.6 168.34h1.3M535.6 168.34h-1.3M322.6 165.38h1.3M535.6 165.38h-1.3M322.6 162.43h2.2M535.6 162.43h-2.2M322.6 159.48h1.3M535.6 159.48h-1.3M322.6 156.52h1.3M535.6 156.52h-1.3M322.6 153.57h1.3M535.6 153.57h-1.3M322.6 150.61h1.3M535.6 150.61h-1.3M322.6 147.66h2.2M535.6 147.66h-2.2M322.6 144.71h1.3M535.6 144.71h-1.3M322.6 141.75h1.3M535.6 141.75h-1.3M322.6 138.8h1.3M535.6 138.8h-1.3M322.6 135.84h1.3M535.6 135.84h-1.3M322.6 132.89h2.2M535.6 132.89h-2.2M322.6 129.94h1.3M535.6 129.94h-1.3M322.6 126.98h1.3M535.6 126.98h-1.3M322.6 124.03h1.3M535.6 124.03h-1.3M322.6 121.07h1.3M535.6 121.07h-1.3M322.6 118.12h2.2M535.6 118.12h-2.2M322.6 115.17h1.3M535.6 115.17h-1.3M322.6 112.21h1.3M535.6 112.21h-1.3M322.6 109.26h1.3M535.6 109.26h-1.3M322.6 106.3h1.3M535.6 106.3h-1.3M322.6 103.35h2.2M535.6 103.35h-2.2M322.6 100.4h1.3M535.6 100.4h-1.3M322.6 97.44h1.3M535.6 97.44h-1.3M322.6 94.49h1.3M535.6 94.49h-1.3M322.6 91.53h1.3M535.6 91.53h-1.3M322.6 88.58h2.2M535.6 88.58h-2.2M322.6 85.63h1.3M535.6 85.63h-1.3M322.6 82.67h1.3M535.6 82.67h-1.3M322.6 79.72h1.3M535.6 79.72h-1.3M322.6 76.76h1.3M535.6 76.76h-1.3M322.6 73.81h2.2M535.6 73.81h-2.2M322.6 70.86h1.3M535.6 70.86h-1.3M322.6 67.9h1.3M535.6 67.9h-1.3M322.6 64.95h1.3M535.6 64.95h-1.3M322.6 61.99h1.3M535.6 61.99h-1.3M322.6 59.04h2.2M535.6 59.04h-2.2M322.6 56.09h1.3M535.6 56.09h-1.3M322.6 53.13h1.3M535.6 53.13h-1.3M322.6 50.18h1.3M535.6 50.18h-1.3M322.6 47.22h1.3M535.6 47.22h-1.3M322.6 44.27h2.2M535.6 44.27h-2.2M322.6 41.32h1.3M535.6 41.32h-1.3M322.6 38.36h1.3M535.6 38.36h-1.3M322.6 35.41h1.3M535.6 35.41h-1.3M322.6 32.45h1.3M535.6 32.45h-1.3M322.6 29.5h2.2M535.6 29.5h-2.2M322.6 26.55h1.3M535.6 26.55h-1.3M322.6 23.59h1.3M535.6 23.59h-1.3M322.6 20.64h1.3M535.6 20.64h-1.3" stroke="#262626" stroke-width="0.5" fill="none"/>
<rect x="322.6" y="18.2" width="213" height="158" fill="none" stroke="#404040" stroke-width="0.6" opacity="0.8"/>
<text x="322.6" y="190.5" class="tk" text-anchor="middle">0.1</text>
<text x="365.2" y="190.5" class="tk" text-anchor="middle">0.2</text>
<text x="407.8" y="190.5" class="tk" text-anchor="middle">0.3</text>
<text x="450.4" y="190.5" class="tk" text-anchor="middle">0.4</text>
<text x="493" y="190.5" class="tk" text-anchor="middle">0.5</text>
<text x="535.6" y="190.5" class="tk" text-anchor="middle">0.6</text>
<text x="318.3" y="166.73" class="tk" text-anchor="end">0.1</text>
<text x="318.3" y="151.96" class="tk" text-anchor="end">0.2</text>
<text x="318.3" y="137.19" class="tk" text-anchor="end">0.3</text>
<text x="318.3" y="122.42" class="tk" text-anchor="end">0.4</text>
<text x="318.3" y="107.65" class="tk" text-anchor="end">0.5</text>
<text x="318.3" y="92.88" class="tk" text-anchor="end">0.6</text>
<text x="318.3" y="78.11" class="tk" text-anchor="end">0.7</text>
<text x="318.3" y="63.34" class="tk" text-anchor="end">0.8</text>
<text x="318.3" y="48.57" class="tk" text-anchor="end">0.9</text>
<text x="318.3" y="33.8" class="tk" text-anchor="end">1</text>
<text x="429.1" y="204.9" class="lb xl" text-anchor="middle">Frequency (Hz)</text>
<text transform="translate(298.5 97.3) rotate(-90)" class="lb yl" text-anchor="middle">Normalize Magnitude</text>
<text x="429.1" y="13.3" class="tt" text-anchor="middle">Frequency Spectrum</text>
<rect x="454.5" y="23.4" width="76" height="24.7" fill="#fff" stroke="#a8a8a8" stroke-width="0.8"/>
<path d="M456.8 29.7h20" stroke="#0072bd" stroke-width="1.5"/>
<circle cx="466.8" cy="29.7" r="1.9" fill="#0072bd"/>
<path d="M456.8 41.9h20" stroke="#ff0000" stroke-width="1.2" stroke-dasharray="1 1.3"/>
<path d="M465.55 40.35L468.05 43.45M465.55 43.45L468.05 40.35M465.55 41.9H468.05M466.8 39.95V43.85" stroke="#ff0000" stroke-width="1.15"/>
<text x="478.1" y="33.5" class="lg">Experiment</text>
<text x="478.1" y="45.5" class="lg">Biosensor</text>
<text x="422.5" y="236.4" class="cp" text-anchor="middle">(<tspan font-weight="bold">b</tspan>)</text>
<clipPath id="clipc"><rect x="178.2" y="288.4" width="213" height="158"/></clipPath>
<path d="M186.72 288.4V446.4M195.24 288.4V446.4M203.76 288.4V446.4M212.28 288.4V446.4M229.32 288.4V446.4M237.84 288.4V446.4M246.36 288.4V446.4M254.88 288.4V446.4M271.92 288.4V446.4M280.44 288.4V446.4M288.96 288.4V446.4M297.48 288.4V446.4M314.52 288.4V446.4M323.04 288.4V446.4M331.56 288.4V446.4M340.08 288.4V446.4M357.12 288.4V446.4M365.64 288.4V446.4M374.16 288.4V446.4M382.68 288.4V446.4M178.2 444.45H391.2M178.2 441.49H391.2M178.2 438.54H391.2M178.2 435.58H391.2M178.2 429.68H391.2M178.2 426.72H391.2M178.2 423.77H391.2M178.2 420.81H391.2M178.2 414.91H391.2M178.2 411.95H391.2M178.2 409H391.2M178.2 406.04H391.2M178.2 400.14H391.2M178.2 397.18H391.2M178.2 394.23H391.2M178.2 391.27H391.2M178.2 385.37H391.2M178.2 382.41H391.2M178.2 379.46H391.2M178.2 376.5H391.2M178.2 370.6H391.2M178.2 367.64H391.2M178.2 364.69H391.2M178.2 361.73H391.2M178.2 355.83H391.2M178.2 352.87H391.2M178.2 349.92H391.2M178.2 346.96H391.2M178.2 341.06H391.2M178.2 338.1H391.2M178.2 335.15H391.2M178.2 332.19H391.2M178.2 326.29H391.2M178.2 323.33H391.2M178.2 320.38H391.2M178.2 317.42H391.2M178.2 311.52H391.2M178.2 308.56H391.2M178.2 305.61H391.2M178.2 302.65H391.2M178.2 296.75H391.2M178.2 293.79H391.2M178.2 290.84H391.2" stroke="#f6f6f6" stroke-width="0.8" fill="none"/>
<path d="M220.8 288.4V446.4M263.4 288.4V446.4M306 288.4V446.4M348.6 288.4V446.4M391.2 288.4V446.4M178.2 432.63H391.2M178.2 417.86H391.2M178.2 403.09H391.2M178.2 388.32H391.2M178.2 373.55H391.2M178.2 358.78H391.2M178.2 344.01H391.2M178.2 329.24H391.2M178.2 314.47H391.2M178.2 299.7H391.2" stroke="#ebebeb" stroke-width="0.9" fill="none"/>
<polyline clip-path="url(#clipc)" points="178.7,377.3 181.3,408.7 183.8,435.4 186.4,409.8 189.1,411.3 191.6,439.8 194.1,418.2 196.7,418.5 199.2,404.4 201.8,443.9 204.5,429 207.2,442.8 209.6,421 212.3,413.8 214.9,422.8 217.3,416.9 219.5,409.2 222.2,406.5 224.7,439 227.6,430.5 230.1,439.6 232.7,435.1 235,417.6 237.6,418.8 240.3,429.4 242.7,393.1 245.4,404 247.9,421.8 250.4,440.9 253,413.6 255.5,404 258.1,423.1 260.6,388.6 263.3,392.6 265.6,408.4 268.2,300.1 271,336.6 273.4,416.1 275.8,336.4 278.4,316.7 281.1,435.3 283.6,407.2 286,390.5 288.8,393.4 291.1,416.7 293.5,427.4 296.3,434 298.7,413.1 301.1,436.8 304,415.9 306.4,438.8 308.9,408.8 311.6,418 314.2,414.1 316.9,423.2 319.2,432.4 321.7,432 324.2,441.3 326.7,430.7 329.3,432.2 332,435.1 334.3,431.3 336.6,425.2 339.3,433.9 342.2,443 344.5,434.5 346.8,427.3 349.5,445.1 352.2,440.2 355,427 357.4,439.4 359.8,419.9 362.5,431.5 365.2,429.2 367.7,437.1 370.3,425.6 372.4,432.1 374.9,432.1 377.6,443.3 380.2,433.1 382.7,443.3 385.3,427.8 387.8,440.7 390.4,421.6" fill="none" stroke="#0072bd" stroke-width="1.5" stroke-linejoin="round"/>
<g fill="#0072bd"><circle cx="178.7" cy="377.3" r="1.9"/><circle cx="181.3" cy="408.7" r="1.9"/><circle cx="183.8" cy="435.4" r="1.9"/><circle cx="186.4" cy="409.8" r="1.9"/><circle cx="189.1" cy="411.3" r="1.9"/><circle cx="191.6" cy="439.8" r="1.9"/><circle cx="194.1" cy="418.2" r="1.9"/><circle cx="196.7" cy="418.5" r="1.9"/><circle cx="199.2" cy="404.4" r="1.9"/><circle cx="201.8" cy="443.9" r="1.9"/><circle cx="204.5" cy="429" r="1.9"/><circle cx="207.2" cy="442.8" r="1.9"/><circle cx="209.6" cy="421" r="1.9"/><circle cx="212.3" cy="413.8" r="1.9"/><circle cx="214.9" cy="422.8" r="1.9"/><circle cx="217.3" cy="416.9" r="1.9"/><circle cx="219.5" cy="409.2" r="1.9"/><circle cx="222.2" cy="406.5" r="1.9"/><circle cx="224.7" cy="439" r="1.9"/><circle cx="227.6" cy="430.5" r="1.9"/><circle cx="230.1" cy="439.6" r="1.9"/><circle cx="232.7" cy="435.1" r="1.9"/><circle cx="235" cy="417.6" r="1.9"/><circle cx="237.6" cy="418.8" r="1.9"/><circle cx="240.3" cy="429.4" r="1.9"/><circle cx="242.7" cy="393.1" r="1.9"/><circle cx="245.4" cy="404" r="1.9"/><circle cx="247.9" cy="421.8" r="1.9"/><circle cx="250.4" cy="440.9" r="1.9"/><circle cx="253" cy="413.6" r="1.9"/><circle cx="255.5" cy="404" r="1.9"/><circle cx="258.1" cy="423.1" r="1.9"/><circle cx="260.6" cy="388.6" r="1.9"/><circle cx="263.3" cy="392.6" r="1.9"/><circle cx="265.6" cy="408.4" r="1.9"/><circle cx="268.2" cy="300.1" r="1.9"/><circle cx="271" cy="336.6" r="1.9"/><circle cx="273.4" cy="416.1" r="1.9"/><circle cx="275.8" cy="336.4" r="1.9"/><circle cx="278.4" cy="316.7" r="1.9"/><circle cx="281.1" cy="435.3" r="1.9"/><circle cx="283.6" cy="407.2" r="1.9"/><circle cx="286" cy="390.5" r="1.9"/><circle cx="288.8" cy="393.4" r="1.9"/><circle cx="291.1" cy="416.7" r="1.9"/><circle cx="293.5" cy="427.4" r="1.9"/><circle cx="296.3" cy="434" r="1.9"/><circle cx="298.7" cy="413.1" r="1.9"/><circle cx="301.1" cy="436.8" r="1.9"/><circle cx="304" cy="415.9" r="1.9"/><circle cx="306.4" cy="438.8" r="1.9"/><circle cx="308.9" cy="408.8" r="1.9"/><circle cx="311.6" cy="418" r="1.9"/><circle cx="314.2" cy="414.1" r="1.9"/><circle cx="316.9" cy="423.2" r="1.9"/><circle cx="319.2" cy="432.4" r="1.9"/><circle cx="321.7" cy="432" r="1.9"/><circle cx="324.2" cy="441.3" r="1.9"/><circle cx="326.7" cy="430.7" r="1.9"/><circle cx="329.3" cy="432.2" r="1.9"/><circle cx="332" cy="435.1" r="1.9"/><circle cx="334.3" cy="431.3" r="1.9"/><circle cx="336.6" cy="425.2" r="1.9"/><circle cx="339.3" cy="433.9" r="1.9"/><circle cx="342.2" cy="443" r="1.9"/><circle cx="344.5" cy="434.5" r="1.9"/><circle cx="346.8" cy="427.3" r="1.9"/><circle cx="349.5" cy="445.1" r="1.9"/><circle cx="352.2" cy="440.2" r="1.9"/><circle cx="355" cy="427" r="1.9"/><circle cx="357.4" cy="439.4" r="1.9"/><circle cx="359.8" cy="419.9" r="1.9"/><circle cx="362.5" cy="431.5" r="1.9"/><circle cx="365.2" cy="429.2" r="1.9"/><circle cx="367.7" cy="437.1" r="1.9"/><circle cx="370.3" cy="425.6" r="1.9"/><circle cx="372.4" cy="432.1" r="1.9"/><circle cx="374.9" cy="432.1" r="1.9"/><circle cx="377.6" cy="443.3" r="1.9"/><circle cx="380.2" cy="433.1" r="1.9"/><circle cx="382.7" cy="443.3" r="1.9"/><circle cx="385.3" cy="427.8" r="1.9"/><circle cx="387.8" cy="440.7" r="1.9"/><circle cx="390.4" cy="421.6" r="1.9"/></g>
<polyline clip-path="url(#clipc)" points="178.5,371.8 180.8,383.9 182.8,405.3 185.4,391.7 187.2,401.8 189.5,403.4 191.9,392.2 194.6,396.4 196.4,413.3 198.6,393.6 201,416.2 203.2,412.4 205.5,419 207.8,425.5 210.1,410.4 212.5,423 214.6,432.6 217.1,433.9 219.1,427 221.1,412.5 223.4,412.6 225.9,427.5 228,403.7 230.3,405.8 232.6,400 234.7,413.8 237.1,419.8 239.3,388.7 241.6,440.9 244,416.1 246.6,417.4 248.4,435.1 250.8,389.1 253,422.5 255.1,437.1 257.3,429.7 259.8,395.8 262,409.4 264,300.2 266.1,403.5 268.6,383.5 270.8,420 273,352.5 275.3,321.5 277.5,429.1 279.9,376.4 282,397.8 284.9,372.3 286.8,397.5 288.8,411.4 291,412.6 293.6,400.3 295.4,428.9 297.8,417.2 300.3,415 302.3,411.4 304.7,415.3 306.9,413.2 309.2,418 311.4,426.2 313.7,434.7 316.3,429.4 318.6,429.9 320.6,426.4 322.9,433 325.3,430.2 327.6,435.4 329.6,432.2 332,425.7 334.3,421.6 336.3,427.5 338.4,425.2 341,421.1 343.3,431.6 345.4,432.2 347.5,423.4 349.9,432.8 352.5,433.4 354.8,433.6 357,435.3 359.5,433 361.7,432.6 363.8,431.3 365.7,434.2 368.1,435.8 370.3,433.1 372.2,438.5 374.6,429.4 376.5,432.8 378.6,435.8 381,436.9 383.1,436.9 385.6,437.1 388.3,441.7 390.7,436.9" fill="none" stroke="#ff0000" stroke-width="1.2" stroke-dasharray="1 1.3"/>
<path d="M177.25 370.25L179.75 373.35M177.25 373.35L179.75 370.25M177.25 371.8H179.75M178.5 369.85V373.75M179.55 382.35L182.05 385.45M179.55 385.45L182.05 382.35M179.55 383.9H182.05M180.8 381.95V385.85M181.55 403.75L184.05 406.85M181.55 406.85L184.05 403.75M181.55 405.3H184.05M182.8 403.35V407.25M184.15 390.15L186.65 393.25M184.15 393.25L186.65 390.15M184.15 391.7H186.65M185.4 389.75V393.65M185.95 400.25L188.45 403.35M185.95 403.35L188.45 400.25M185.95 401.8H188.45M187.2 399.85V403.75M188.25 401.85L190.75 404.95M188.25 404.95L190.75 401.85M188.25 403.4H190.75M189.5 401.45V405.35M190.65 390.65L193.15 393.75M190.65 393.75L193.15 390.65M190.65 392.2H193.15M191.9 390.25V394.15M193.35 394.85L195.85 397.95M193.35 397.95L195.85 394.85M193.35 396.4H195.85M194.6 394.45V398.35M195.15 411.75L197.65 414.85M195.15 414.85L197.65 411.75M195.15 413.3H197.65M196.4 411.35V415.25M197.35 392.05L199.85 395.15M197.35 395.15L199.85 392.05M197.35 393.6H199.85M198.6 391.65V395.55M199.75 414.65L202.25 417.75M199.75 417.75L202.25 414.65M199.75 416.2H202.25M201 414.25V418.15M201.95 410.85L204.45 413.95M201.95 413.95L204.45 410.85M201.95 412.4H204.45M203.2 410.45V414.35M204.25 417.45L206.75 420.55M204.25 420.55L206.75 417.45M204.25 419H206.75M205.5 417.05V420.95M206.55 423.95L209.05 427.05M206.55 427.05L209.05 423.95M206.55 425.5H209.05M207.8 423.55V427.45M208.85 408.85L211.35 411.95M208.85 411.95L211.35 408.85M208.85 410.4H211.35M210.1 408.45V412.35M211.25 421.45L213.75 424.55M211.25 424.55L213.75 421.45M211.25 423H213.75M212.5 421.05V424.95M213.35 431.05L215.85 434.15M213.35 434.15L215.85 431.05M213.35 432.6H215.85M214.6 430.65V434.55M215.85 432.35L218.35 435.45M215.85 435.45L218.35 432.35M215.85 433.9H218.35M217.1 431.95V435.85M217.85 425.45L220.35 428.55M217.85 428.55L220.35 425.45M217.85 427H220.35M219.1 425.05V428.95M219.85 410.95L222.35 414.05M219.85 414.05L222.35 410.95M219.85 412.5H222.35M221.1 410.55V414.45M222.15 411.05L224.65 414.15M222.15 414.15L224.65 411.05M222.15 412.6H224.65M223.4 410.65V414.55M224.65 425.95L227.15 429.05M224.65 429.05L227.15 425.95M224.65 427.5H227.15M225.9 425.55V429.45M226.75 402.15L229.25 405.25M226.75 405.25L229.25 402.15M226.75 403.7H229.25M228 401.75V405.65M229.05 404.25L231.55 407.35M229.05 407.35L231.55 404.25M229.05 405.8H231.55M230.3 403.85V407.75M231.35 398.45L233.85 401.55M231.35 401.55L233.85 398.45M231.35 400H233.85M232.6 398.05V401.95M233.45 412.25L235.95 415.35M233.45 415.35L235.95 412.25M233.45 413.8H235.95M234.7 411.85V415.75M235.85 418.25L238.35 421.35M235.85 421.35L238.35 418.25M235.85 419.8H238.35M237.1 417.85V421.75M238.05 387.15L240.55 390.25M238.05 390.25L240.55 387.15M238.05 388.7H240.55M239.3 386.75V390.65M240.35 439.35L242.85 442.45M240.35 442.45L242.85 439.35M240.35 440.9H242.85M241.6 438.95V442.85M242.75 414.55L245.25 417.65M242.75 417.65L245.25 414.55M242.75 416.1H245.25M244 414.15V418.05M245.35 415.85L247.85 418.95M245.35 418.95L247.85 415.85M245.35 417.4H247.85M246.6 415.45V419.35M247.15 433.55L249.65 436.65M247.15 436.65L249.65 433.55M247.15 435.1H249.65M248.4 433.15V437.05M249.55 387.55L252.05 390.65M249.55 390.65L252.05 387.55M249.55 389.1H252.05M250.8 387.15V391.05M251.75 420.95L254.25 424.05M251.75 424.05L254.25 420.95M251.75 422.5H254.25M253 420.55V424.45M253.85 435.55L256.35 438.65M253.85 438.65L256.35 435.55M253.85 437.1H256.35M255.1 435.15V439.05M256.05 428.15L258.55 431.25M256.05 431.25L258.55 428.15M256.05 429.7H258.55M257.3 427.75V431.65M258.55 394.25L261.05 397.35M258.55 397.35L261.05 394.25M258.55 395.8H261.05M259.8 393.85V397.75M260.75 407.85L263.25 410.95M260.75 410.95L263.25 407.85M260.75 409.4H263.25M262 407.45V411.35M262.75 298.65L265.25 301.75M262.75 301.75L265.25 298.65M262.75 300.2H265.25M264 298.25V302.15M264.85 401.95L267.35 405.05M264.85 405.05L267.35 401.95M264.85 403.5H267.35M266.1 401.55V405.45M267.35 381.95L269.85 385.05M267.35 385.05L269.85 381.95M267.35 383.5H269.85M268.6 381.55V385.45M269.55 418.45L272.05 421.55M269.55 421.55L272.05 418.45M269.55 420H272.05M270.8 418.05V421.95M271.75 350.95L274.25 354.05M271.75 354.05L274.25 350.95M271.75 352.5H274.25M273 350.55V354.45M274.05 319.95L276.55 323.05M274.05 323.05L276.55 319.95M274.05 321.5H276.55M275.3 319.55V323.45M276.25 427.55L278.75 430.65M276.25 430.65L278.75 427.55M276.25 429.1H278.75M277.5 427.15V431.05M278.65 374.85L281.15 377.95M278.65 377.95L281.15 374.85M278.65 376.4H281.15M279.9 374.45V378.35M280.75 396.25L283.25 399.35M280.75 399.35L283.25 396.25M280.75 397.8H283.25M282 395.85V399.75M283.65 370.75L286.15 373.85M283.65 373.85L286.15 370.75M283.65 372.3H286.15M284.9 370.35V374.25M285.55 395.95L288.05 399.05M285.55 399.05L288.05 395.95M285.55 397.5H288.05M286.8 395.55V399.45M287.55 409.85L290.05 412.95M287.55 412.95L290.05 409.85M287.55 411.4H290.05M288.8 409.45V413.35M289.75 411.05L292.25 414.15M289.75 414.15L292.25 411.05M289.75 412.6H292.25M291 410.65V414.55M292.35 398.75L294.85 401.85M292.35 401.85L294.85 398.75M292.35 400.3H294.85M293.6 398.35V402.25M294.15 427.35L296.65 430.45M294.15 430.45L296.65 427.35M294.15 428.9H296.65M295.4 426.95V430.85M296.55 415.65L299.05 418.75M296.55 418.75L299.05 415.65M296.55 417.2H299.05M297.8 415.25V419.15M299.05 413.45L301.55 416.55M299.05 416.55L301.55 413.45M299.05 415H301.55M300.3 413.05V416.95M301.05 409.85L303.55 412.95M301.05 412.95L303.55 409.85M301.05 411.4H303.55M302.3 409.45V413.35M303.45 413.75L305.95 416.85M303.45 416.85L305.95 413.75M303.45 415.3H305.95M304.7 413.35V417.25M305.65 411.65L308.15 414.75M305.65 414.75L308.15 411.65M305.65 413.2H308.15M306.9 411.25V415.15M307.95 416.45L310.45 419.55M307.95 419.55L310.45 416.45M307.95 418H310.45M309.2 416.05V419.95M310.15 424.65L312.65 427.75M310.15 427.75L312.65 424.65M310.15 426.2H312.65M311.4 424.25V428.15M312.45 433.15L314.95 436.25M312.45 436.25L314.95 433.15M312.45 434.7H314.95M313.7 432.75V436.65M315.05 427.85L317.55 430.95M315.05 430.95L317.55 427.85M315.05 429.4H317.55M316.3 427.45V431.35M317.35 428.35L319.85 431.45M317.35 431.45L319.85 428.35M317.35 429.9H319.85M318.6 427.95V431.85M319.35 424.85L321.85 427.95M319.35 427.95L321.85 424.85M319.35 426.4H321.85M320.6 424.45V428.35M321.65 431.45L324.15 434.55M321.65 434.55L324.15 431.45M321.65 433H324.15M322.9 431.05V434.95M324.05 428.65L326.55 431.75M324.05 431.75L326.55 428.65M324.05 430.2H326.55M325.3 428.25V432.15M326.35 433.85L328.85 436.95M326.35 436.95L328.85 433.85M326.35 435.4H328.85M327.6 433.45V437.35M328.35 430.65L330.85 433.75M328.35 433.75L330.85 430.65M328.35 432.2H330.85M329.6 430.25V434.15M330.75 424.15L333.25 427.25M330.75 427.25L333.25 424.15M330.75 425.7H333.25M332 423.75V427.65M333.05 420.05L335.55 423.15M333.05 423.15L335.55 420.05M333.05 421.6H335.55M334.3 419.65V423.55M335.05 425.95L337.55 429.05M335.05 429.05L337.55 425.95M335.05 427.5H337.55M336.3 425.55V429.45M337.15 423.65L339.65 426.75M337.15 426.75L339.65 423.65M337.15 425.2H339.65M338.4 423.25V427.15M339.75 419.55L342.25 422.65M339.75 422.65L342.25 419.55M339.75 421.1H342.25M341 419.15V423.05M342.05 430.05L344.55 433.15M342.05 433.15L344.55 430.05M342.05 431.6H344.55M343.3 429.65V433.55M344.15 430.65L346.65 433.75M344.15 433.75L346.65 430.65M344.15 432.2H346.65M345.4 430.25V434.15M346.25 421.85L348.75 424.95M346.25 424.95L348.75 421.85M346.25 423.4H348.75M347.5 421.45V425.35M348.65 431.25L351.15 434.35M348.65 434.35L351.15 431.25M348.65 432.8H351.15M349.9 430.85V434.75M351.25 431.85L353.75 434.95M351.25 434.95L353.75 431.85M351.25 433.4H353.75M352.5 431.45V435.35M353.55 432.05L356.05 435.15M353.55 435.15L356.05 432.05M353.55 433.6H356.05M354.8 431.65V435.55M355.75 433.75L358.25 436.85M355.75 436.85L358.25 433.75M355.75 435.3H358.25M357 433.35V437.25M358.25 431.45L360.75 434.55M358.25 434.55L360.75 431.45M358.25 433H360.75M359.5 431.05V434.95M360.45 431.05L362.95 434.15M360.45 434.15L362.95 431.05M360.45 432.6H362.95M361.7 430.65V434.55M362.55 429.75L365.05 432.85M362.55 432.85L365.05 429.75M362.55 431.3H365.05M363.8 429.35V433.25M364.45 432.65L366.95 435.75M364.45 435.75L366.95 432.65M364.45 434.2H366.95M365.7 432.25V436.15M366.85 434.25L369.35 437.35M366.85 437.35L369.35 434.25M366.85 435.8H369.35M368.1 433.85V437.75M369.05 431.55L371.55 434.65M369.05 434.65L371.55 431.55M369.05 433.1H371.55M370.3 431.15V435.05M370.95 436.95L373.45 440.05M370.95 440.05L373.45 436.95M370.95 438.5H373.45M372.2 436.55V440.45M373.35 427.85L375.85 430.95M373.35 430.95L375.85 427.85M373.35 429.4H375.85M374.6 427.45V431.35M375.25 431.25L377.75 434.35M375.25 434.35L377.75 431.25M375.25 432.8H377.75M376.5 430.85V434.75M377.35 434.25L379.85 437.35M377.35 437.35L379.85 434.25M377.35 435.8H379.85M378.6 433.85V437.75M379.75 435.35L382.25 438.45M379.75 438.45L382.25 435.35M379.75 436.9H382.25M381 434.95V438.85M381.85 435.35L384.35 438.45M381.85 438.45L384.35 435.35M381.85 436.9H384.35M383.1 434.95V438.85M384.35 435.55L386.85 438.65M384.35 438.65L386.85 435.55M384.35 437.1H386.85M385.6 435.15V439.05M387.05 440.15L389.55 443.25M387.05 443.25L389.55 440.15M387.05 441.7H389.55M388.3 439.75V443.65M389.45 435.35L391.95 438.45M389.45 438.45L391.95 435.35M389.45 436.9H391.95M390.7 434.95V438.85" stroke="#ff0000" stroke-width="1.15" fill="none"/>
<path d="M178.2 446.4v-2.2M178.2 288.4v2.2M186.72 446.4v-1.3M186.72 288.4v1.3M195.24 446.4v-1.3M195.24 288.4v1.3M203.76 446.4v-1.3M203.76 288.4v1.3M212.28 446.4v-1.3M212.28 288.4v1.3M220.8 446.4v-2.2M220.8 288.4v2.2M229.32 446.4v-1.3M229.32 288.4v1.3M237.84 446.4v-1.3M237.84 288.4v1.3M246.36 446.4v-1.3M246.36 288.4v1.3M254.88 446.4v-1.3M254.88 288.4v1.3M263.4 446.4v-2.2M263.4 288.4v2.2M271.92 446.4v-1.3M271.92 288.4v1.3M280.44 446.4v-1.3M280.44 288.4v1.3M288.96 446.4v-1.3M288.96 288.4v1.3M297.48 446.4v-1.3M297.48 288.4v1.3M306 446.4v-2.2M306 288.4v2.2M314.52 446.4v-1.3M314.52 288.4v1.3M323.04 446.4v-1.3M323.04 288.4v1.3M331.56 446.4v-1.3M331.56 288.4v1.3M340.08 446.4v-1.3M340.08 288.4v1.3M348.6 446.4v-2.2M348.6 288.4v2.2M357.12 446.4v-1.3M357.12 288.4v1.3M365.64 446.4v-1.3M365.64 288.4v1.3M374.16 446.4v-1.3M374.16 288.4v1.3M382.68 446.4v-1.3M382.68 288.4v1.3M391.2 446.4v-2.2M391.2 288.4v2.2M178.2 444.45h1.3M391.2 444.45h-1.3M178.2 441.49h1.3M391.2 441.49h-1.3M178.2 438.54h1.3M391.2 438.54h-1.3M178.2 435.58h1.3M391.2 435.58h-1.3M178.2 432.63h2.2M391.2 432.63h-2.2M178.2 429.68h1.3M391.2 429.68h-1.3M178.2 426.72h1.3M391.2 426.72h-1.3M178.2 423.77h1.3M391.2 423.77h-1.3M178.2 420.81h1.3M391.2 420.81h-1.3M178.2 417.86h2.2M391.2 417.86h-2.2M178.2 414.91h1.3M391.2 414.91h-1.3M178.2 411.95h1.3M391.2 411.95h-1.3M178.2 409h1.3M391.2 409h-1.3M178.2 406.04h1.3M391.2 406.04h-1.3M178.2 403.09h2.2M391.2 403.09h-2.2M178.2 400.14h1.3M391.2 400.14h-1.3M178.2 397.18h1.3M391.2 397.18h-1.3M178.2 394.23h1.3M391.2 394.23h-1.3M178.2 391.27h1.3M391.2 391.27h-1.3M178.2 388.32h2.2M391.2 388.32h-2.2M178.2 385.37h1.3M391.2 385.37h-1.3M178.2 382.41h1.3M391.2 382.41h-1.3M178.2 379.46h1.3M391.2 379.46h-1.3M178.2 376.5h1.3M391.2 376.5h-1.3M178.2 373.55h2.2M391.2 373.55h-2.2M178.2 370.6h1.3M391.2 370.6h-1.3M178.2 367.64h1.3M391.2 367.64h-1.3M178.2 364.69h1.3M391.2 364.69h-1.3M178.2 361.73h1.3M391.2 361.73h-1.3M178.2 358.78h2.2M391.2 358.78h-2.2M178.2 355.83h1.3M391.2 355.83h-1.3M178.2 352.87h1.3M391.2 352.87h-1.3M178.2 349.92h1.3M391.2 349.92h-1.3M178.2 346.96h1.3M391.2 346.96h-1.3M178.2 344.01h2.2M391.2 344.01h-2.2M178.2 341.06h1.3M391.2 341.06h-1.3M178.2 338.1h1.3M391.2 338.1h-1.3M178.2 335.15h1.3M391.2 335.15h-1.3M178.2 332.19h1.3M391.2 332.19h-1.3M178.2 329.24h2.2M391.2 329.24h-2.2M178.2 326.29h1.3M391.2 326.29h-1.3M178.2 323.33h1.3M391.2 323.33h-1.3M178.2 320.38h1.3M391.2 320.38h-1.3M178.2 317.42h1.3M391.2 317.42h-1.3M178.2 314.47h2.2M391.2 314.47h-2.2M178.2 311.52h1.3M391.2 311.52h-1.3M178.2 308.56h1.3M391.2 308.56h-1.3M178.2 305.61h1.3M391.2 305.61h-1.3M178.2 302.65h1.3M391.2 302.65h-1.3M178.2 299.7h2.2M391.2 299.7h-2.2M178.2 296.75h1.3M391.2 296.75h-1.3M178.2 293.79h1.3M391.2 293.79h-1.3M178.2 290.84h1.3M391.2 290.84h-1.3" stroke="#262626" stroke-width="0.5" fill="none"/>
<rect x="178.2" y="288.4" width="213" height="158" fill="none" stroke="#404040" stroke-width="0.6" opacity="0.8"/>
<text x="178.2" y="460.7" class="tk" text-anchor="middle">0.1</text>
<text x="220.8" y="460.7" class="tk" text-anchor="middle">0.2</text>
<text x="263.4" y="460.7" class="tk" text-anchor="middle">0.3</text>
<text x="306" y="460.7" class="tk" text-anchor="middle">0.4</text>
<text x="348.6" y="460.7" class="tk" text-anchor="middle">0.5</text>
<text x="391.2" y="460.7" class="tk" text-anchor="middle">0.6</text>
<text x="173.9" y="436.93" class="tk" text-anchor="end">0.1</text>
<text x="173.9" y="422.16" class="tk" text-anchor="end">0.2</text>
<text x="173.9" y="407.39" class="tk" text-anchor="end">0.3</text>
<text x="173.9" y="392.62" class="tk" text-anchor="end">0.4</text>
<text x="173.9" y="377.85" class="tk" text-anchor="end">0.5</text>
<text x="173.9" y="363.08" class="tk" text-anchor="end">0.6</text>
<text x="173.9" y="348.31" class="tk" text-anchor="end">0.7</text>
<text x="173.9" y="333.54" class="tk" text-anchor="end">0.8</text>
<text x="173.9" y="318.77" class="tk" text-anchor="end">0.9</text>
<text x="173.9" y="304" class="tk" text-anchor="end">1</text>
<text x="284.7" y="475.1" class="lb xl" text-anchor="middle">Frequency (Hz)</text>
<text transform="translate(154.1 367.5) rotate(-90)" class="lb yl" text-anchor="middle">Normalize Magnitude</text>
<text x="284.7" y="283.5" class="tt" text-anchor="middle">Frequency Spectrum</text>
<rect x="310.1" y="293.6" width="76" height="24.7" fill="#fff" stroke="#a8a8a8" stroke-width="0.8"/>
<path d="M312.4 299.9h20" stroke="#0072bd" stroke-width="1.5"/>
<circle cx="322.4" cy="299.9" r="1.9" fill="#0072bd"/>
<path d="M312.4 312.1h20" stroke="#ff0000" stroke-width="1.2" stroke-dasharray="1 1.3"/>
<path d="M321.15 310.55L323.65 313.65M321.15 313.65L323.65 310.55M321.15 312.1H323.65M322.4 310.15V314.05" stroke="#ff0000" stroke-width="1.15"/>
<text x="333.7" y="303.7" class="lg">Experiment</text>
<text x="333.7" y="315.7" class="lg">Biosensor</text>
<text x="279.8" y="507.2" class="cp" text-anchor="middle">(<tspan font-weight="bold">c</tspan>)</text>
</svg>
</body></html>
